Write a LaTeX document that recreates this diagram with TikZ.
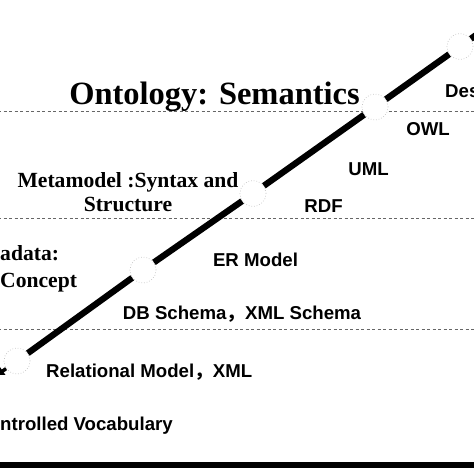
\documentclass[tikz,border=0pt]{standalone}
\usepackage{fontspec}
\setmainfont{Liberation Serif}
\setsansfont{Liberation Sans}
\newfontfamily\cjk{Noto Sans CJK SC}
\usetikzlibrary{arrows.meta}
\tikzset{
  stage/.style={circle,draw=gray!45,dotted,line width=0.7bp,minimum size=26bp,inner sep=0pt,fill=white},
  link/.style={line width=6.3bp,line cap=butt},
  sep/.style={draw=gray!80!black,line width=0.8bp,dash pattern=on 3bp off 2.5bp},
  serifhead/.style={font=\fontsize{32.6}{36}\selectfont\bfseries,inner sep=0pt},
  seriflabel/.style={font=\fontsize{21.7}{24}\selectfont\bfseries,inner sep=0pt},
  sanslabel/.style={font=\fontsize{18.7}{22}\selectfont\sffamily\bfseries,inner sep=0pt},
}
\begin{document}
\begin{tikzpicture}[x=1bp,y=-1bp]
\useasboundingbox (0,0) rectangle (474,474);
\clip (0,0) rectangle (474,474);
\fill[white] (0,0) rectangle (474,474);
% separators
\coordinate (s1l) at (-2,111.5); \coordinate (s1r) at (476,111.5);
\coordinate (s2l) at (-2,218.5); \coordinate (s2r) at (476,218.5);
\coordinate (s3l) at (-2,329.5); \coordinate (s3r) at (476,329.5);
\draw[sep] (s1l) -- (s1r);
\draw[sep] (s2l) -- (s2r);
\draw[sep] (s3l) -- (s3r);
\coordinate (bl) at (-5,465); \coordinate (br) at (480,465);
\draw[line width=6bp] (bl) -- (br);
% stages
\node[stage] (c1) at (460,46.5) {};
\node[stage] (c2) at (375,107) {};
\node[stage] (c3) at (253,193.5) {};
\node[stage] (c4) at (143,270) {};
\node[stage] (c5) at (17,361) {};
\coordinate (top) at (500,18);
\coordinate (a0) at (-3,375);
\draw[link] (c1) -- (top);
\draw[link] (c2) -- (c1);
\draw[link] (c3) -- (c2);
\draw[link] (c4) -- (c3);
\draw[link] (c5) -- (c4);
\draw[line width=3.5bp,-{Triangle[length=7bp,width=9bp]}] (c5) -- (a0);
% texts
\node[serifhead,anchor=base] (onto) at (214.5,105) {Ontology: Semantics};
\node[seriflabel,anchor=base] (meta1) at (128,187.3) {Metamodel :Syntax and};
\node[seriflabel,anchor=base] (meta2) at (128,211.7) {Structure};
\node[seriflabel,anchor=base west] (md1) at (0,260) {adata:};
\node[seriflabel,anchor=base west] (md2) at (0,287) {Concept};
\node[sanslabel,anchor=base west] (des) at (445,98) {Des};
\node[sanslabel,anchor=base] (owl) at (428,136) {OWL};
\node[sanslabel,anchor=base] (uml) at (368.5,175.7) {UML};
\node[sanslabel,anchor=base] (rdf) at (323.5,212.7) {RDF};
\node[sanslabel,anchor=base] (er) at (255.5,266) {ER Model};
\node[sanslabel,anchor=base] (db) at (242,319.3) {DB Schema{\cjk ，}XML Schema};
\node[sanslabel,anchor=base west] (rel) at (46,377.3) {Relational Model{\cjk ，}XML};
\node[sanslabel,anchor=base west] (cv) at (0,430) {ntrolled Vocabulary};
\end{tikzpicture}
\end{document}
